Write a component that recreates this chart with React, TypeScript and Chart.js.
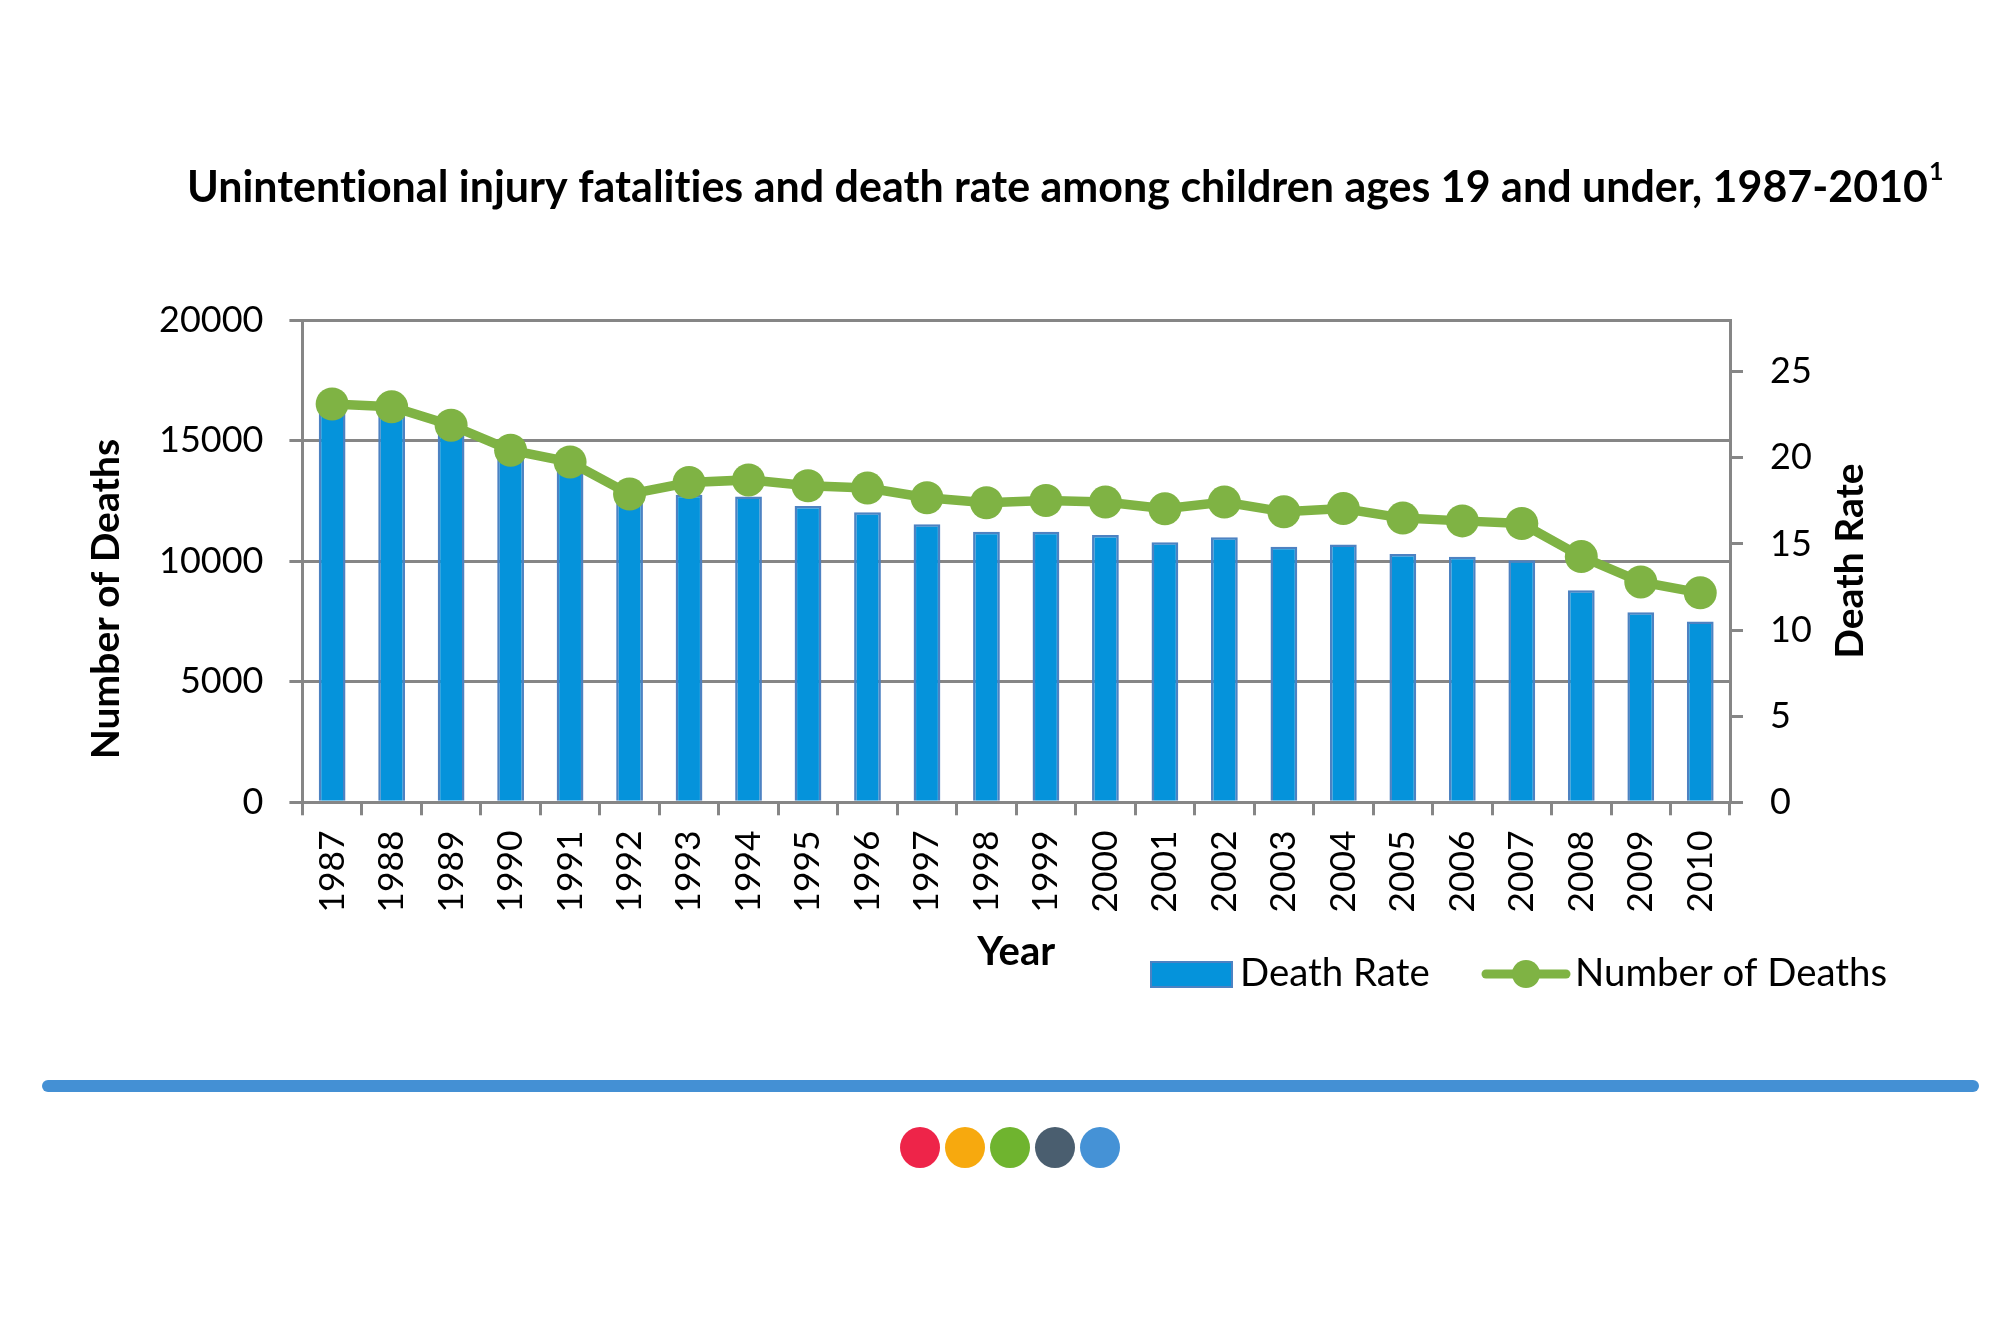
import { useEffect, useRef } from 'react';
import { Chart, registerables } from 'chart.js';

Chart.register(...registerables);

const years = [
  '1987', '1988', '1989', '1990', '1991', '1992', '1993', '1994',
  '1995', '1996', '1997', '1998', '1999', '2000', '2001', '2002',
  '2003', '2004', '2005', '2006', '2007', '2008', '2009', '2010',
];
const deathRate = [
  23, 22.8, 21.8, 20.2, 19.4, 17.7, 17.85, 17.75,
  17.2, 16.84, 16.14, 15.71, 15.7, 15.52, 15.1, 15.39,
  14.84, 14.96, 14.42, 14.25, 14.05, 12.31, 11.03, 10.49,
];
const numberOfDeaths = [
  16515, 16400, 15640, 14600, 14110, 12780, 13260, 13370,
  13125, 13030, 12630, 12420, 12515, 12450, 12170, 12450,
  12045, 12180, 11785, 11670, 11560, 10190, 9140, 8685,
];
const footerDots = ['#ee2449', '#f7a90e', '#6fb42f', '#4a5e6f', '#4592d6'];

const chartTitle = 'Unintentional injury fatalities and death rate among children ages 19 and under, 1987-2010';
const FONT = 'Lato, "Open Sans", sans-serif';
const AXIS_GREY = '#868686';
const BLUE = '#0593db';
const BLUE_EDGE = '#4d82c2';
const GREEN = '#7fb344';

// title, rotated axis titles and the legend sit at spots chart.js can't put them on its own
const chartExtras = {
  id: 'chartExtras',
  afterDraw(chart: Chart) {
    const { ctx } = chart;
    const [bars, line] = [chart.data.datasets[1], chart.data.datasets[0]];
    ctx.save();
    ctx.fillStyle = '#000';
    ctx.textAlign = 'left';
    ctx.textBaseline = 'alphabetic';

    // a tiny spacing turns off Lato's "ti" ligature
    ctx.letterSpacing = '0.01px';
    ctx.font = `700 43px ${FONT}`;
    ctx.fillText(chartTitle, 187, 202, 1741);
    ctx.font = `700 25px ${FONT}`;
    ctx.fillText('1', 1929, 180);

    const rotated = (text: string, x: number, y: number) => {
      ctx.save();
      ctx.translate(x, y);
      ctx.rotate(-Math.PI / 2);
      ctx.textAlign = 'center';
      ctx.font = `700 39px ${FONT}`;
      ctx.fillText(text, 0, 0);
      ctx.restore();
    };
    rotated('Number of Deaths', 119, 599);
    rotated('Death Rate', 1863, 561);

    ctx.fillStyle = BLUE;
    ctx.strokeStyle = BLUE_EDGE;
    ctx.lineWidth = 2;
    ctx.fillRect(1151, 962, 81, 25);
    ctx.strokeRect(1151, 962, 81, 25);

    ctx.strokeStyle = GREEN;
    ctx.fillStyle = GREEN;
    ctx.lineWidth = 9;
    ctx.lineCap = 'round';
    ctx.beginPath();
    ctx.moveTo(1486, 974);
    ctx.lineTo(1566, 974);
    ctx.stroke();
    ctx.beginPath();
    ctx.arc(1526, 974, 14, 0, Math.PI * 2);
    ctx.fill();

    ctx.fillStyle = '#000';
    ctx.font = `400 38.4px ${FONT}`;
    ctx.fillText(String(bars.label), 1240, 986);
    ctx.fillText(String(line.label), 1575, 986);
    ctx.restore();
  },
};

export default function App() {
  const canvasRef = useRef<HTMLCanvasElement>(null);

  useEffect(() => {
    document.body.style.margin = '0';
    if (!canvasRef.current) return;

    const tickFont = { family: FONT, size: 36 };
    const chart = new Chart(canvasRef.current, {
      type: 'bar',
      data: {
        labels: years,
        datasets: [
          {
            type: 'line',
            label: 'Number of Deaths',
            data: numberOfDeaths,
            yAxisID: 'y',
            order: 0,
            borderColor: GREEN,
            backgroundColor: GREEN,
            borderWidth: 9.5,
            tension: 0,
            pointRadius: 16.5,
            pointHoverRadius: 16.5,
            pointBorderWidth: 0,
            pointBackgroundColor: GREEN,
          },
          {
            type: 'bar',
            label: 'Death Rate',
            data: deathRate,
            yAxisID: 'y1',
            order: 1,
            backgroundColor: BLUE,
            borderColor: BLUE_EDGE,
            borderWidth: 2.5,
            categoryPercentage: 1,
            barPercentage: 0.45,
          },
        ],
      },
      options: {
        responsive: false,
        animation: false,
        layout: { padding: { top: 320, bottom: 361, left: 0, right: 0 } },
        plugins: {
          legend: { display: false },
          title: { display: false },
          tooltip: { enabled: false },
        },
        scales: {
          x: {
            offset: true,
            grid: {
              offset: true,
              drawOnChartArea: false,
              color: AXIS_GREY,
              lineWidth: 3,
              tickLength: 13,
            },
            border: { color: AXIS_GREY, width: 3 },
            ticks: {
              color: '#000',
              font: { family: FONT, size: 35.5 },
              minRotation: 90,
              maxRotation: 90,
              autoSkip: false,
              padding: 15,
            },
            title: {
              display: true,
              text: 'Year',
              color: '#000',
              font: { family: FONT, size: 40, weight: 'bold' },
              padding: 0,
            },
            afterFit(scale) {
              scale.height = 173.7;
            },
          },
          y: {
            position: 'left',
            min: 0,
            max: 20000,
            ticks: {
              stepSize: 5000,
              color: '#000',
              font: tickFont,
              padding: 26,
              callback: (value) => String(value),
            },
            grid: { color: AXIS_GREY, lineWidth: 3, tickLength: 13 },
            border: { color: AXIS_GREY, width: 3 },
            afterFit(scale) {
              scale.width = 302.4;
            },
          },
          y1: {
            position: 'right',
            min: 0,
            max: 28,
            ticks: {
              stepSize: 5,
              includeBounds: false,
              color: '#000',
              font: tickFont,
              padding: 27,
            },
            grid: { drawOnChartArea: false, color: AXIS_GREY, lineWidth: 3, tickLength: 13 },
            border: { color: AXIS_GREY, width: 3 },
            afterFit(scale) {
              scale.width = 275;
            },
          },
        },
      },
      plugins: [chartExtras],
    });

    return () => chart.destroy();
  }, []);

  return (
    <div style={{ position: 'absolute', left: 0, top: 0, width: 2005, height: 1337, overflow: 'hidden', background: '#fff' }}>
      <canvas ref={canvasRef} width={2005} height={1337} style={{ display: 'block' }} />
      <div style={{ position: 'absolute', left: 42, top: 1080, width: 1937, height: 12, borderRadius: 6, background: '#4490d4' }} />
      {footerDots.map((color, i) => (
        <div
          key={color}
          style={{ position: 'absolute', left: 900 + i * 45, top: 1127, width: 40, height: 41, borderRadius: '50%', background: color }}
        />
      ))}
    </div>
  );
}
